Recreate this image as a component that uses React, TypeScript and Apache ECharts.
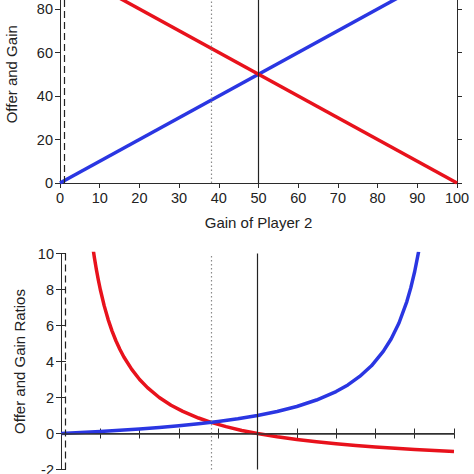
import * as echarts from "echarts";
import React, { useEffect, useRef } from "react";

// top panel: offer and gain against the gain of player 2
const topX = [0, 100];
const offerValues = [0, 100];
const gainValues = [100, 0];

// bottom panel: ratios
const blueRatioX = [0, 5, 10, 15, 20, 25, 30, 35, 40, 45, 50, 55, 60, 65, 70, 73, 76, 79, 82, 84, 86, 88, 89, 90, 91];
const blueRatioY = [0, 0.05, 0.11, 0.18, 0.25, 0.33, 0.43, 0.54, 0.67, 0.82, 1.0, 1.22, 1.5, 1.86, 2.33, 2.7, 3.17, 3.76, 4.56, 5.25, 6.14, 7.33, 8.09, 9.0, 10.1];
const redRatioX = [8, 8.5, 9, 9.5, 10, 11, 12, 13, 14, 15, 16, 18, 20, 22, 25, 28, 31, 35, 38.2, 42, 46, 50, 55, 60, 65, 70, 75, 80, 85, 90, 95, 100];
const redRatioY = [10.5, 9.76, 9.11, 8.53, 8.0, 7.09, 6.33, 5.69, 5.14, 4.67, 4.25, 3.56, 3.0, 2.55, 2.0, 1.57, 1.23, 0.86, 0.62, 0.38, 0.17, 0, -0.18, -0.33, -0.46, -0.57, -0.67, -0.75, -0.82, -0.89, -0.95, -1.0];

// reference lines
const dashedX = 1;
const dottedX = 38.2;
const splitX = 50;
const zeroY = 0;

const topYTicks = { min: 0, max: 100, interval: 20 };
const bottomYTicks = { min: -2, max: 10, interval: 2 };
const xTicks = { min: 0, max: 100, interval: 10 };

const BLUE = "#2a36e2";
const RED = "#e8121c";
const AXIS = "#2b2b2b";
const FONT = "Liberation Sans, Arial, sans-serif";

// the top of the upper panel is cut off in the picture, so the chart is taller than the window
const CROP = 35;

const pairs = (xs: number[], ys: number[]) => xs.map((x, i) => [x, ys[i]]);

export default function App() {
	const ref = useRef<HTMLDivElement>(null);

	useEffect(() => {
		const chart = echarts.init(ref.current, null, { renderer: "svg" });

		const axisLine = { show: true, lineStyle: { color: AXIS, width: 1 } };
		const tick = { show: true, inside: false, length: 5, lineStyle: { color: AXIS } };
		const label = { color: "#222", fontSize: 14.5, fontFamily: FONT, margin: 7 };
		const name = { color: "#222", fontSize: 15, fontFamily: FONT };

		const refLines = (withZero: boolean) => ({
			silent: true,
			symbol: "none",
			label: { show: false },
			data: [
				{ xAxis: dashedX, lineStyle: { color: "#222", type: [7, 4], width: 1.2 } },
				{ xAxis: dottedX, lineStyle: { color: "#8a8a8a", type: [1.5, 2.5], width: 1.2 } },
				{ xAxis: splitX, lineStyle: { color: "#222", type: "solid", width: 1.2 } },
				...(withZero ? [{ yAxis: zeroY, lineStyle: { color: "#333", type: "solid", width: 1.5 } }] : []),
			],
		});

		chart.setOption({
			animation: false,
			backgroundColor: "#ffffff",
			grid: [
				{ left: 60, right: 17, top: 0.5, height: 217.5, containLabel: false, outerBoundsMode: "none" },
				{ left: 61, right: 20, top: 253.5 + CROP, height: 216, containLabel: false, outerBoundsMode: "none" },
			],
			xAxis: [
				{
					gridIndex: 0,
					type: "value",
					position: "bottom",
					...xTicks,
					axisLine,
					axisTick: tick,
					axisLabel: label,
					splitLine: { show: false },
					name: "Gain of Player 2",
					nameLocation: "middle",
					nameGap: 32,
					nameTextStyle: name,
				},
				{
					gridIndex: 1,
					type: "value",
					position: "bottom",
					...xTicks,
					axisLine,
					axisTick: tick,
					axisLabel: { show: false },
					splitLine: { show: false },
				},
				{
					gridIndex: 1,
					type: "value",
					position: "top",
					...xTicks,
					axisLine,
					axisTick: tick,
					axisLabel: { show: false },
					splitLine: { show: false },
				},
			],
			yAxis: [
				{
					gridIndex: 0,
					type: "value",
					position: "left",
					...topYTicks,
					axisLine,
					axisTick: tick,
					axisLabel: { ...label, showMaxLabel: false },
					splitLine: { show: false },
					name: "Offer and Gain",
					nameLocation: "middle",
					nameRotate: 90,
					nameGap: 41,
					nameTextStyle: name,
				},
				{
					gridIndex: 0,
					type: "value",
					position: "right",
					...topYTicks,
					axisLine,
					axisTick: tick,
					axisLabel: { show: false },
					splitLine: { show: false },
				},
				{
					gridIndex: 1,
					type: "value",
					position: "left",
					...bottomYTicks,
					axisLine,
					axisTick: tick,
					axisLabel: label,
					splitLine: { show: false },
					name: "Offer and Gain Ratios",
					nameLocation: "middle",
					nameRotate: 90,
					nameGap: 30,
					nameTextStyle: name,
				},
				{
					gridIndex: 1,
					type: "value",
					position: "right",
					...bottomYTicks,
					axisLine,
					axisTick: tick,
					axisLabel: { show: false },
					splitLine: { show: false },
				},
			],
			series: [
				{
					type: "line",
					xAxisIndex: 0,
					yAxisIndex: 0,
					data: pairs(topX, offerValues),
					symbol: "none",
					lineStyle: { color: BLUE, width: 3.5 },
					z: 2,
				},
				{
					type: "line",
					xAxisIndex: 0,
					yAxisIndex: 0,
					data: pairs(topX, gainValues),
					symbol: "none",
					lineStyle: { color: RED, width: 3.5 },
					markLine: refLines(false),
					z: 3,
				},
				{
					type: "line",
					xAxisIndex: 1,
					yAxisIndex: 2,
					data: pairs(redRatioX, redRatioY),
					symbol: "none",
					lineStyle: { color: RED, width: 3.5, join: "round" },
					markLine: refLines(true),
					z: 2,
				},
				{
					type: "line",
					xAxisIndex: 1,
					yAxisIndex: 2,
					data: pairs(blueRatioX, blueRatioY),
					symbol: "none",
					lineStyle: { color: BLUE, width: 3.5, join: "round" },
					z: 3,
				},
			],
		});

		return () => chart.dispose();
	}, []);

	return (
		<div
			ref={ref}
			style={{ position: "fixed", left: 0, top: -CROP, width: 474, height: 474 + CROP, background: "#fff" }}
		/>
	);
}
